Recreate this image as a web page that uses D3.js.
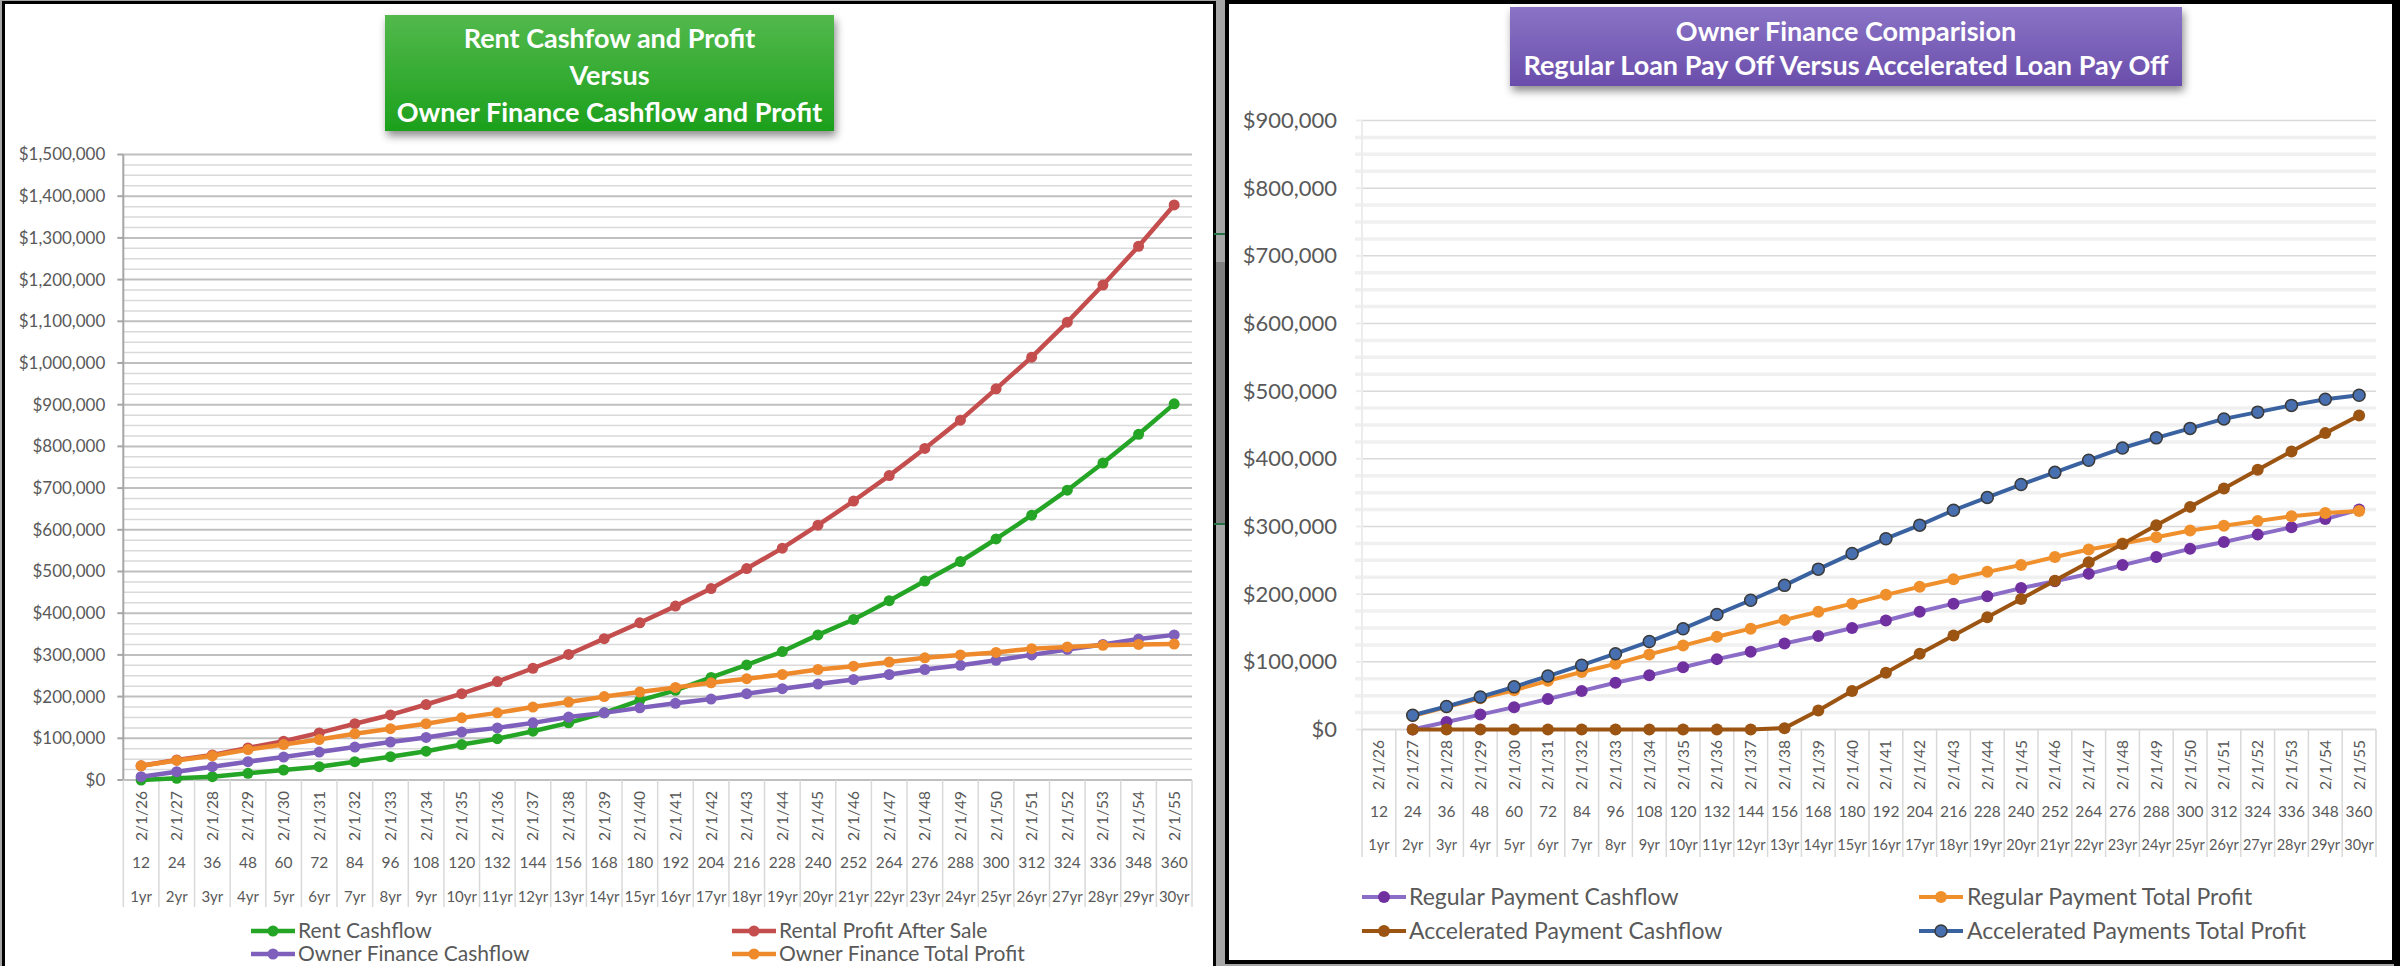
<!DOCTYPE html>
<html>
<head>
<meta charset="utf-8">
<script src="https://cdn.jsdelivr.net/npm/d3@7"></script>
<style>
body { margin: 0; background: #a6a6a6; overflow: hidden; }
text { font-family: Lato, "Open Sans", sans-serif; }
</style>
</head>
<body>
<script>
var width = 2400,
    height = 966;

var dates = ["2/1/26","2/1/27","2/1/28","2/1/29","2/1/30","2/1/31","2/1/32","2/1/33","2/1/34","2/1/35",
             "2/1/36","2/1/37","2/1/38","2/1/39","2/1/40","2/1/41","2/1/42","2/1/43","2/1/44","2/1/45",
             "2/1/46","2/1/47","2/1/48","2/1/49","2/1/50","2/1/51","2/1/52","2/1/53","2/1/54","2/1/55"];
var months = ["12","24","36","48","60","72","84","96","108","120","132","144","156","168","180",
              "192","204","216","228","240","252","264","276","288","300","312","324","336","348","360"];
var years = ["1yr","2yr","3yr","4yr","5yr","6yr","7yr","8yr","9yr","10yr","11yr","12yr","13yr","14yr","15yr",
             "16yr","17yr","18yr","19yr","20yr","21yr","22yr","23yr","24yr","25yr","26yr","27yr","28yr","29yr","30yr"];

// left chart
var leftTicks = [0,100000,200000,300000,400000,500000,600000,700000,800000,900000,1000000,1100000,1200000,1300000,1400000,1500000];
var rentCashflow = [0,4000,8000,16000,24000,32000,44000,56000,69000,85000,99000,117000,137000,161000,191000,
                    215000,246000,276000,308000,348000,385000,430000,477000,524000,578000,635000,695000,760000,829000,902000];
var rentalProfitAfterSale = [34000,48000,60000,77000,93000,113000,135000,156000,181000,207000,236000,268000,301000,339000,377000,
                             417000,459000,507000,556000,611000,669000,730000,795000,863000,938000,1014000,1098000,1187000,1280000,1379000];
var ownerFinanceCashflow = [8000,20000,32000,44000,55000,67000,79000,91000,102000,115000,125000,137000,151000,161000,173000,
                            184000,194000,207000,219000,230000,241000,253000,265000,275000,287000,300000,313000,325000,338000,348000];
var ownerFinanceTotalProfit = [34000,47000,58000,73000,85000,97000,111000,123000,135000,149000,161000,175000,187000,200000,211000,
                               222000,233000,243000,253000,265000,273000,283000,293000,300000,306000,315000,319000,323000,325000,326000];

// right chart
var rightTicks = [0,100000,200000,300000,400000,500000,600000,700000,800000,900000];
var regularCashflow = [null,0,11000,22000,33000,45000,57000,69000,80000,92000,104000,115000,127000,138000,150000,
                       161000,174000,186000,197000,209000,219000,230000,243000,255000,267000,277000,288000,299000,311000,325000];
var regularTotalProfit = [null,20000,33000,46000,58000,72000,85000,97000,111000,124000,137000,149000,162000,174000,186000,
                          199000,211000,222000,233000,243000,255000,266000,275000,284000,294000,301000,308000,315000,320000,323000];
var acceleratedCashflow = [null,0,0,0,0,0,0,0,0,0,0,0,2000,28000,57000,
                           84000,112000,139000,166000,193000,220000,247000,274000,302000,329000,356000,384000,411000,438000,464000];
var acceleratedTotalProfit = [null,21000,34000,48000,63000,79000,95000,112000,130000,149000,170000,191000,213000,237000,260000,
                              282000,302000,324000,343000,362000,380000,398000,416000,431000,445000,459000,469000,479000,488000,494000];

var svg = d3.select("body").append("svg")
    .attr("width", width)
    .attr("height", height);

var defs = svg.append("defs");
var gGreen = defs.append("linearGradient").attr("id", "gradGreen").attr("x1", 0).attr("y1", 0).attr("x2", 0).attr("y2", 1);
gGreen.append("stop").attr("offset", "0%").attr("stop-color", "#52b94c");
gGreen.append("stop").attr("offset", "100%").attr("stop-color", "#1ca01c");
var gPurple = defs.append("linearGradient").attr("id", "gradPurple").attr("x1", 0).attr("y1", 0).attr("x2", 0).attr("y2", 1);
gPurple.append("stop").attr("offset", "0%").attr("stop-color", "#8a74c6");
gPurple.append("stop").attr("offset", "100%").attr("stop-color", "#6a4dab");
defs.append("filter").attr("id", "shadow").attr("x", "-10%").attr("y", "-10%").attr("width", "120%").attr("height", "140%")
    .append("feDropShadow").attr("dx", 2).attr("dy", 5).attr("stdDeviation", 4)
    .attr("flood-color", "#000").attr("flood-opacity", 0.45);

// panels
svg.append("rect").attr("x", 3.5).attr("y", 2.5).attr("width", 1211).attr("height", 1000)
    .attr("fill", "#fff").attr("stroke", "#000").attr("stroke-width", 3);
svg.append("rect").attr("x", 1216).attr("y", 262).attr("width", 9).attr("height", 262).attr("fill", "#7f7f7f");
svg.selectAll(".sel").data([234, 524]).enter().append("line")
    .attr("x1", 1214).attr("x2", 1228).attr("y1", function (d) { return d; }).attr("y2", function (d) { return d; })
    .attr("stroke", "#217346").attr("stroke-width", 2);
svg.append("rect").attr("x", 1227).attr("y", 2).attr("width", 1167).attr("height", 960)
    .attr("fill", "#fff").attr("stroke", "#000").attr("stroke-width", 4);
svg.append("rect").attr("x", 2394).attr("y", 0).attr("width", 6).attr("height", height).attr("fill", "#000");

// title boxes
function titleBox(x, y, w, h, fill, lines, lineY) {
    svg.append("rect").attr("x", x).attr("y", y).attr("width", w).attr("height", h)
        .attr("fill", fill).attr("filter", "url(#shadow)");
    svg.selectAll(null).data(lines).enter().append("text")
        .attr("x", x + w / 2)
        .attr("y", function (d, i) { return lineY[i]; })
        .attr("dy", "0.35em")
        .attr("text-anchor", "middle")
        .attr("fill", "#fff")
        .attr("font-weight", "bold")
        .attr("font-size", 27)
        .text(function (d) { return d; });
}
titleBox(385, 15, 449, 116, "url(#gradGreen)",
    ["Rent Cashfow and Profit", "Versus", "Owner Finance Cashflow and Profit"], [39, 76, 113]);
titleBox(1510, 7, 672, 79, "url(#gradPurple)",
    ["Owner Finance Comparision", "Regular Loan Pay Off Versus Accelerated Loan Pay Off"], [32, 66]);

function drawChart(c) {
    var x = d3.scaleBand().domain(dates).range([c.left, c.right]);
    var y = d3.scaleLinear().domain([0, c.max]).range([c.bottom, c.top]);
    var bw = x.bandwidth();
    var g = svg.append("g");

    var minors = d3.range(0, c.max + 1, 25000).filter(function (v) { return v % 100000 != 0; });
    g.selectAll(".minor").data(minors).enter().append("line")
        .attr("x1", c.minorX0).attr("x2", c.right)
        .attr("y1", function (d) { return y(d); }).attr("y2", function (d) { return y(d); })
        .attr("stroke", c.minorColor).attr("stroke-width", c.minorWidth);
    g.selectAll(".major").data(c.ticks.slice(1)).enter().append("line")
        .attr("x1", c.left).attr("x2", c.right)
        .attr("y1", function (d) { return y(d); }).attr("y2", function (d) { return y(d); })
        .attr("stroke", c.majorColor).attr("stroke-width", c.majorWidth);
    g.selectAll(".ytick").data(c.ticks).enter().append("line")
        .attr("x1", c.left - 6).attr("x2", c.left)
        .attr("y1", function (d) { return y(d); }).attr("y2", function (d) { return y(d); })
        .attr("stroke", c.axisColor).attr("stroke-width", 2);
    g.append("line").attr("x1", c.left).attr("x2", c.left).attr("y1", c.top).attr("y2", c.bottom)
        .attr("stroke", c.axisColor).attr("stroke-width", 2);

    var yAxis = g.append("g").attr("transform", "translate(" + c.left + ",0)")
        .call(d3.axisLeft(y).tickValues(c.ticks).tickFormat(d3.format("$,")).tickSize(0).tickPadding(c.labelPad));
    yAxis.select(".domain").remove();
    yAxis.selectAll("text").attr("fill", "#595959").attr("font-size", c.yFont)
        .style("font-family", "Lato, 'Open Sans', sans-serif");

    // category axis
    g.append("line").attr("x1", c.left).attr("x2", c.right).attr("y1", c.bottom).attr("y2", c.bottom)
        .attr("stroke", c.baseColor).attr("stroke-width", 2);
    g.selectAll(".div").data(dates).enter().append("line")
        .attr("x1", function (d) { return x(d); }).attr("x2", function (d) { return x(d); })
        .attr("y1", c.bottom).attr("y2", c.divBottom)
        .attr("stroke", "#d9d9d9").attr("stroke-width", 1.5);
    g.append("line").attr("x1", c.right).attr("x2", c.right).attr("y1", c.bottom).attr("y2", c.divBottom)
        .attr("stroke", "#d9d9d9").attr("stroke-width", 1.5);
    g.selectAll(".date").data(dates).enter().append("text")
        .attr("transform", function (d) { return "translate(" + (x(d) + bw / 2) + "," + c.dateTop + ") rotate(-90)"; })
        .attr("text-anchor", "end").attr("dy", "0.35em")
        .attr("fill", "#595959").attr("font-size", c.catFont)
        .text(function (d) { return d; });
    g.selectAll(".month").data(months).enter().append("text")
        .attr("x", function (d, i) { return x(dates[i]) + bw / 2; }).attr("y", c.monthY)
        .attr("text-anchor", "middle").attr("dy", "0.35em")
        .attr("fill", "#595959").attr("font-size", c.catFont)
        .text(function (d) { return d; });
    g.selectAll(".year").data(years).enter().append("text")
        .attr("x", function (d, i) { return x(dates[i]) + bw / 2; }).attr("y", c.yearY)
        .attr("text-anchor", "middle").attr("dy", "0.35em")
        .attr("fill", "#595959").attr("font-size", c.yrFont)
        .text(function (d) { return d; });

    // series
    var line = d3.line()
        .defined(function (d) { return d != null; })
        .x(function (d, i) { return x(dates[i]) + bw / 2; })
        .y(function (d) { return y(d); });
    c.series.forEach(function (s) {
        g.append("path").datum(s.values)
            .attr("d", line)
            .attr("fill", "none")
            .attr("stroke", s.line)
            .attr("stroke-width", c.lineWidth)
            .attr("stroke-linejoin", "round");
        g.selectAll(null).data(s.values.map(function (v, i) { return {v: v, i: i}; })
                .filter(function (d) { return d.v != null; }))
            .enter().append("circle")
            .attr("cx", function (d) { return x(dates[d.i]) + bw / 2; })
            .attr("cy", function (d) { return y(d.v); })
            .attr("r", c.markerR)
            .attr("fill", s.marker)
            .attr("stroke", s.outline || "none")
            .attr("stroke-width", 1.5);
    });

    // legend
    c.series.forEach(function (s, i) {
        var col = c.legendCols[i % 2], ly = c.legendRows[Math.floor(i / 2)];
        g.append("line").attr("x1", col[0]).attr("x2", col[1]).attr("y1", ly).attr("y2", ly)
            .attr("stroke", s.line).attr("stroke-width", c.lineWidth);
        g.append("circle").attr("cx", (col[0] + col[1]) / 2).attr("cy", ly).attr("r", c.markerR)
            .attr("fill", s.marker).attr("stroke", s.outline || "none").attr("stroke-width", 1.5);
        g.append("text").attr("x", col[2]).attr("y", ly).attr("dy", "0.35em")
            .attr("fill", "#595959").attr("font-size", c.legendFont)
            .text(s.name);
    });
}

drawChart({
    left: 123.3, right: 1192, top: 154.5, bottom: 780, max: 1500000, ticks: leftTicks,
    minorX0: 123.3, minorColor: "#d9d9d9", minorWidth: 1.5, majorColor: "#bfbfbf", majorWidth: 2,
    axisColor: "#a6a6a6", baseColor: "#bfbfbf", labelPad: 18, yFont: 17,
    dateTop: 791, monthY: 863, yearY: 897, divBottom: 907, catFont: 15.5, yrFont: 15,
    lineWidth: 4.5, markerR: 5.5,
    legendCols: [[251, 295, 298], [732, 776, 779]], legendRows: [931, 954], legendFont: 21,
    series: [
        {name: "Rent Cashflow", values: rentCashflow, line: "#25a525", marker: "#25a525"},
        {name: "Rental Profit After Sale", values: rentalProfitAfterSale, line: "#c44e4e", marker: "#c44e4e"},
        {name: "Owner Finance Cashflow", values: ownerFinanceCashflow, line: "#7e60bc", marker: "#7e60bc"},
        {name: "Owner Finance Total Profit", values: ownerFinanceTotalProfit, line: "#ee8a2b", marker: "#ee8a2b"}
    ]
});

drawChart({
    left: 1362, right: 2376, top: 120.5, bottom: 729.5, max: 900000, ticks: rightTicks,
    minorX0: 1355, minorColor: "#f0f0f0", minorWidth: 3.5, majorColor: "#d9d9d9", majorWidth: 1.5,
    axisColor: "#ececec", baseColor: "#d9d9d9", labelPad: 25, yFont: 22,
    dateTop: 740, monthY: 812, yearY: 845, divBottom: 857, catFont: 15.5, yrFont: 14.5,
    lineWidth: 4, markerR: 6,
    legendCols: [[1362, 1406, 1409], [1919, 1963, 1967]], legendRows: [897, 931], legendFont: 23,
    series: [
        {name: "Regular Payment Cashflow", values: regularCashflow, line: "#8b6cc6", marker: "#7030a0"},
        {name: "Regular Payment Total Profit", values: regularTotalProfit, line: "#f0902c", marker: "#f0902c"},
        {name: "Accelerated Payment Cashflow", values: acceleratedCashflow, line: "#9c5412", marker: "#9c5412"},
        {name: "Accelerated Payments Total Profit", values: acceleratedTotalProfit, line: "#3b62a0", marker: "#4870b0", outline: "#3a3a3a"}
    ]
});
</script>
</body>
</html>
